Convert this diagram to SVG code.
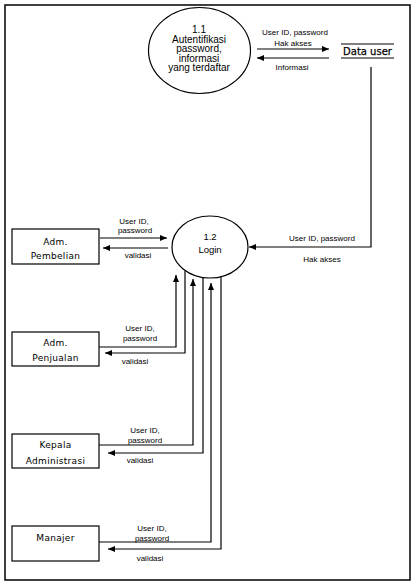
<svg xmlns="http://www.w3.org/2000/svg" width="416" height="585" viewBox="0 0 416 585">
<style>
.ln{fill:none;stroke:#000;stroke-width:1.2}
.ar{fill:none;stroke:#000;stroke-width:1.2;marker-end:url(#ah)}
.shp{fill:#fff;stroke:#000;stroke-width:1.2}
.lbl{font-family:"Liberation Sans",Arial,sans-serif;font-size:8px;fill:#000;text-anchor:middle}
.ptx{font-family:"Liberation Sans",Arial,sans-serif;font-size:10px;fill:#000;text-anchor:middle}
.ptx9{font-family:"Liberation Sans",Arial,sans-serif;font-size:9.5px;fill:#000;text-anchor:middle}
.btx{font-family:"DejaVu Sans",Verdana,sans-serif;font-size:9px;letter-spacing:0.3px;fill:#000;text-anchor:middle}
.dtx{font-family:"DejaVu Sans",Verdana,sans-serif;font-size:10px;fill:#000;text-anchor:middle;stroke:#000;stroke-width:0.25}
</style>
<defs>
<marker id="ah" markerWidth="7" markerHeight="6" refX="7" refY="3" orient="auto" markerUnits="userSpaceOnUse">
<path d="M0,0 L7,3 L0,6 Z" fill="#000"/>
</marker>
</defs>
<rect x="5" y="5" width="405" height="575" fill="#fff" stroke="#000" stroke-width="1.5"/>

<g id="connectors">
<line class="ar" x1="257" y1="49" x2="329" y2="49"/>
<line class="ar" x1="329" y1="58" x2="257" y2="58"/>
<polyline class="ar" points="371,67 371,247 249,247"/>
<line class="ar" x1="100" y1="238" x2="167" y2="238"/>
<line class="ar" x1="168" y1="248" x2="103" y2="248"/>
<polyline class="ar" points="99,347 176,347 176,275"/>
<polyline class="ar" points="185,271 185,353 105,353"/>
<polyline class="ar" points="99,445 193,445 193,279"/>
<polyline class="ar" points="203,278 203,453 108,453"/>
<polyline class="ar" points="99,542 211,542 211,283"/>
<polyline class="ar" points="221,277 221,549 108,549"/>
<text class="lbl" x="295" y="35">User ID, password</text>
<text class="lbl" x="293" y="46">Hak akses</text>
<text class="lbl" x="292" y="70">Informasi</text>
<text class="lbl" x="322" y="241">User ID, password</text>
<text class="lbl" x="322" y="262">Hak akses</text>
<text class="lbl" x="134" y="224">User ID,</text>
<text class="lbl" x="135" y="233">password</text>
<text class="lbl" x="138" y="258">validasi</text>
<text class="lbl" x="140" y="331">User ID,</text>
<text class="lbl" x="140" y="341">password</text>
<text class="lbl" x="135" y="364">validasi</text>
<text class="lbl" x="145" y="433">User ID,</text>
<text class="lbl" x="145" y="443">password</text>
<text class="lbl" x="140" y="463">validasi</text>
<text class="lbl" x="152" y="531">User ID,</text>
<text class="lbl" x="152" y="541">password</text>
<text class="lbl" x="150" y="561">validasi</text>
</g>

<g id="p11">
<ellipse class="shp" cx="199.5" cy="50.5" rx="51" ry="43"/>
<text class="ptx" x="199" y="33">1.1</text>
<text class="ptx" x="199" y="42.5">Autentifikasi</text>
<text class="ptx" x="199" y="52">password,</text>
<text class="ptx" x="199" y="61.5">informasi</text>
<text class="ptx" x="199" y="71">yang terdaftar</text>
</g>

<g id="datauser">
<line class="ln" x1="341" y1="44" x2="394" y2="44"/>
<line class="ln" x1="341" y1="58" x2="394" y2="58"/>
<text class="dtx" x="367.5" y="55">Data user</text>
</g>

<g id="p12">
<ellipse class="shp" cx="210" cy="247" rx="38" ry="31"/>
<text class="ptx9" x="210" y="240">1.2</text>
<text class="ptx9" x="210" y="253">Login</text>
</g>

<g id="admpembelian">
<rect class="shp" x="12" y="229" width="87" height="35"/>
<text class="btx" x="55.5" y="245">Adm.</text>
<text class="btx" x="55.5" y="259">Pembelian</text>
</g>

<g id="admpenjualan">
<rect class="shp" x="12" y="332" width="87" height="34"/>
<text class="btx" x="55.5" y="346">Adm.</text>
<text class="btx" x="55.5" y="361">Penjualan</text>
</g>

<g id="kepala">
<rect class="shp" x="12" y="434" width="87" height="34"/>
<text class="btx" x="55.5" y="448">Kepala</text>
<text class="btx" x="55.5" y="464">Administrasi</text>
</g>

<g id="manajer">
<rect class="shp" x="12" y="526" width="87" height="35"/>
<text class="btx" x="55.5" y="541">Manajer</text>
</g>
</svg>
